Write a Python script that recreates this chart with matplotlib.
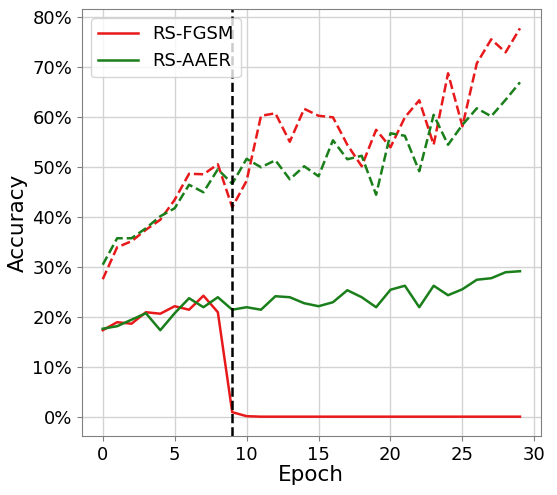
import matplotlib
matplotlib.use("Agg")
import matplotlib.pyplot as plt
from matplotlib.ticker import PercentFormatter
import numpy as np

# epochs and accuracy values (%)
epochs = np.arange(30)
fgsm_train = [17.3, 18.9, 18.6, 20.9, 20.6, 22.1, 21.4, 24.2, 20.9, 0.9,
              0.1, 0, 0, 0, 0, 0, 0, 0, 0, 0,
              0, 0, 0, 0, 0, 0, 0, 0, 0, 0]
aaer_train = [17.6, 18.1, 19.4, 20.7, 17.3, 20.7, 23.7, 21.9, 23.9, 21.4,
              21.9, 21.4, 24.1, 23.9, 22.7, 22.1, 22.9, 25.3, 23.9, 21.9,
              25.4, 26.2, 21.9, 26.2, 24.3, 25.5, 27.4, 27.7, 28.9, 29.1]
fgsm_test = [27.5, 33.9, 35.1, 37.4, 39.4, 43.4, 48.6, 48.5, 50.5, 41.9,
             47.2, 60.2, 60.7, 55.0, 61.6, 60.2, 59.9, 54.4, 50.1, 57.4,
             53.9, 59.9, 63.3, 54.4, 68.7, 58.1, 70.7, 75.5, 72.9, 77.7]
aaer_test = [30.4, 35.7, 35.7, 37.7, 40.1, 41.7, 46.4, 44.9, 49.5, 46.6,
             51.6, 49.9, 51.3, 47.5, 50.1, 48.1, 55.3, 51.5, 52.2, 44.4,
             56.7, 56.2, 49.1, 60.4, 54.4, 58.4, 61.7, 60.1, 63.4, 66.9]
switch_epoch = 9

fig, ax = plt.subplots(figsize=(5.57, 4.95), dpi=100)
fig.subplots_adjust(left=0.147, right=0.971, top=0.982, bottom=0.119)

ax.plot(epochs, fgsm_train, color="#e8191b", lw=1.8, label="RS-FGSM")
ax.plot(epochs, aaer_train, color="#1a7f1a", lw=1.8, label="RS-AAER")
ax.plot(epochs, fgsm_test, color="#e8191b", lw=1.8, ls="--")
ax.plot(epochs, aaer_test, color="#1a7f1a", lw=1.8, ls="--")
ax.axvline(switch_epoch, color="black", lw=1.8, ls="--")

ax.yaxis.set_major_formatter(PercentFormatter(decimals=0))
ax.set_yticks(np.arange(0, 81, 10))
ax.set_xticks(np.arange(0, 31, 5))
ax.grid(True, color="#d3d3d3", lw=1)
ax.set_axisbelow(True)
for s in ax.spines.values():
    s.set_color("#808080")
ax.tick_params(labelsize=13, colors="#808080", labelcolor="black")

ax.set_xlabel("Epoch", fontsize=15.5, labelpad=1)
ax.set_ylabel("Accuracy", fontsize=15.5, labelpad=3)
ax.legend(loc="upper left", fontsize=13, handlelength=2.2)

fig.savefig("out.png", dpi=100)
